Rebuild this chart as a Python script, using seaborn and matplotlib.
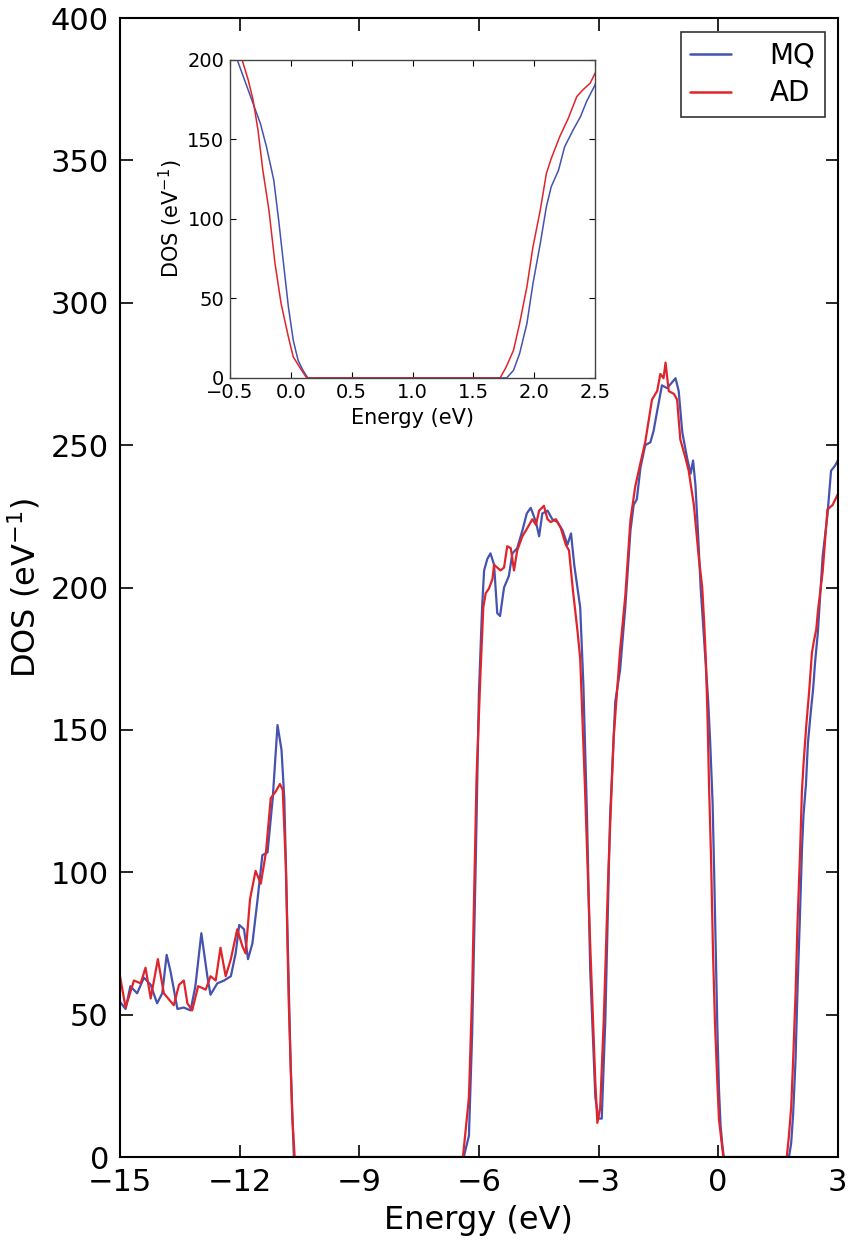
import numpy as np
import seaborn as sns
import matplotlib
matplotlib.use("Agg")
import matplotlib.pyplot as plt

# MQ (blue) density of states
energy_mq = [-15.0, -14.86, -14.74, -14.57, -14.40, -14.23, -14.07, -13.94, -13.83, -13.73,
             -13.56, -13.40, -13.23, -13.11, -12.96, -12.81, -12.73, -12.56, -12.39, -12.22,
             -12.10, -12.01, -11.89, -11.79, -11.68, -11.55, -11.43, -11.30, -11.17, -11.05,
             -10.95, -10.88, -10.80, -10.72, -10.64,
             -6.38, -6.25, -6.17, -6.08, -6.0, -5.92, -5.87, -5.79, -5.71, -5.62,
             -5.54, -5.47, -5.37, -5.25, -5.16, -5.04, -4.91, -4.80, -4.70, -4.57,
             -4.49, -4.41, -4.28, -4.16, -4.03, -3.90, -3.78, -3.69, -3.61, -3.53,
             -3.46, -3.38, -3.29, -3.21, -3.08, -3.0, -2.92, -2.83, -2.71, -2.58,
             -2.46, -2.33, -2.20, -2.12, -2.04, -1.95, -1.83, -1.70, -1.62, -1.53,
             -1.41, -1.28, -1.16, -1.07, -0.99, -0.90, -0.78, -0.69, -0.63, -0.57,
             -0.49, -0.44, -0.38, -0.31, -0.25, -0.20, -0.14, -0.10, -0.06, -0.02,
             0.02, 0.06, 0.10, 0.14,
             1.774, 1.83, 1.88, 1.94, 1.99, 2.05, 2.10, 2.14, 2.20, 2.25,
             2.32, 2.38, 2.43, 2.50, 2.62, 2.74, 2.83, 2.93, 3.0]
dos_mq = [54.5, 52, 60, 57.5, 63, 60.5, 54, 57.5, 71, 65,
          52, 52.5, 51.5, 60, 78.6, 63.5, 57, 61, 62, 63.5,
          71.5, 81.5, 80, 69.5, 75, 90.5, 106, 107, 126, 151.7,
          143, 126, 78.6, 31.9, 0,
          0, 7.5, 43, 103, 163, 193, 206, 210, 212, 208,
          191, 190, 200, 204, 212, 213.8, 220, 226, 228, 223,
          218, 226, 227, 224, 223, 220, 215, 219, 208, 200,
          193, 165.7, 120, 66, 20.8, 13.5, 13.5, 48, 120, 160,
          171, 193, 220, 229, 231, 242, 250, 251, 255, 262,
          271, 270, 272, 273.5, 269, 254.5, 245.5, 240, 244.6, 236,
          214.7, 200, 187.4, 172.7, 160, 145.4, 124.4, 99.3, 72, 44.7,
          23.7, 11, 4.8, 0,
          0, 4.8, 15.3, 34.2, 59.4, 84.6, 107.7, 120.3, 130.7, 145.4,
          156, 164.3, 173.8, 184.3, 211, 225.5, 241, 242.8, 244.6]

# AD (red) density of states
energy_ad = [-15.0, -14.86, -14.65, -14.48, -14.36, -14.23, -14.05, -13.90, -13.65, -13.52,
             -13.40, -13.31, -13.19, -13.04, -12.85, -12.73, -12.60, -12.48, -12.35, -12.22,
             -12.06, -11.93, -11.85, -11.74, -11.60, -11.47, -11.34, -11.22, -11.09, -10.99,
             -10.92, -10.84, -10.77, -10.68, -10.62,
             -6.40, -6.25, -6.17, -6.06, -5.96, -5.89, -5.83, -5.75, -5.66, -5.62,
             -5.54, -5.46, -5.37, -5.29, -5.20, -5.12, -5.04, -4.91, -4.78, -4.66,
             -4.57, -4.49, -4.37, -4.28, -4.20, -4.07, -3.95, -3.82, -3.74, -3.65,
             -3.53, -3.46, -3.34, -3.21, -3.08, -3.03, -2.96, -2.87, -2.75, -2.62,
             -2.46, -2.33, -2.20, -2.08, -1.95, -1.83, -1.66, -1.53, -1.45, -1.37,
             -1.32, -1.24, -1.11, -1.03, -0.95, -0.82, -0.74, -0.61, -0.49, -0.40,
             -0.35, -0.31, -0.27, -0.23, -0.18, -0.13, -0.08, -0.02, 0.02, 0.08, 0.13,
             1.72, 1.77, 1.83, 1.88, 1.94, 1.99, 2.05, 2.10, 2.14, 2.21,
             2.28, 2.35, 2.40, 2.46, 2.50, 2.62, 2.74, 2.87, 3.0]
dos_ad = [63.5, 52.5, 62, 61, 66.5, 55.7, 69.5, 57.5, 53.3, 60.5,
          62, 54, 51.5, 60, 58.8, 63.5, 62, 73.5, 63.5, 69.5,
          80, 74, 71.5, 90.5, 100.5, 96, 107, 126, 128.5, 131,
          129, 102, 55, 14, 0,
          0, 21, 58, 133, 170, 193, 198, 199.6, 203, 208,
          207, 206, 207, 214.5, 213.8, 206, 213, 218, 221, 224,
          222, 227, 228.7, 224, 223, 224, 221, 215, 213, 200,
          185, 175, 129.5, 75, 26, 12, 17, 48, 102, 147.6,
          178, 197, 223.7, 235.5, 243.7, 251, 266, 269, 275, 273.5,
          279, 269, 268, 266, 252, 245.5, 241, 229, 211, 200,
          187.4, 174.8, 156, 130.7, 105.6, 72, 46.8, 25.8, 13.2, 5.9, 0,
          0, 6.9, 17.4, 34.2, 57.3, 82.5, 105.6, 128.6, 138, 151.8,
          163.3, 177, 181.2, 185.4, 191.6, 205.6, 227.4, 229, 232.8]

blue = "#4552b0"
red = "#e0242b"

sns.set_style("ticks")
plt.rcParams['font.family'] = ['DejaVu Sans']
plt.rcParams['mathtext.default'] = 'regular'
plt.rcParams['text.color'] = 'black'
plt.rcParams['axes.labelcolor'] = 'black'
plt.rcParams['xtick.color'] = 'black'
plt.rcParams['ytick.color'] = 'black'

fig = plt.figure(figsize=(8.48, 12.42), dpi=100)
ax = fig.add_axes([0.1415, 0.0684, 0.8465, 0.9171])

sns.lineplot(x=energy_mq, y=dos_mq, color=blue, lw=1.6, label="MQ", ax=ax, sort=False)
sns.lineplot(x=energy_ad, y=dos_ad, color=red, lw=1.6, label="AD", ax=ax, sort=False)

ax.set_xlim(-15, 3)
ax.set_ylim(0, 400)
ax.set_xticks(np.arange(-15, 4, 3))
ax.set_yticks(np.arange(0, 401, 50))
ax.tick_params(direction="in", length=9, width=1.2, top=True, right=True,
               labelsize=22, pad=8)
ax.set_xlabel("Energy (eV)", fontsize=23, labelpad=6)
ax.set_ylabel("DOS (eV$^{-1}$)", fontsize=23, labelpad=6)
for s in ax.spines.values():
    s.set_linewidth(1.5)
    s.set_color("black")
    s.set_zorder(5)

leg = ax.legend(loc="upper right", fontsize=20, handlelength=1.45, handletextpad=1.4,
                borderpad=0.35, labelspacing=0.35, fancybox=False, borderaxespad=0,
                bbox_to_anchor=(0.982, 0.9877))
leg.get_frame().set_edgecolor("black")
leg.get_frame().set_linewidth(1.2)
for line in leg.get_lines():
    line.set_linewidth(1.8)

# inset: zoom on the band gap
ins = fig.add_axes([0.2712, 0.6957, 0.4305, 0.256])
sns.lineplot(x=energy_mq, y=dos_mq, color=blue, lw=1.1, ax=ins, sort=False, legend=False)
sns.lineplot(x=energy_ad, y=dos_ad, color=red, lw=1.1, ax=ins, sort=False, legend=False)
ins.set_xlim(-0.5, 2.5)
ins.set_ylim(0, 200)
ins.set_xticks(np.arange(-0.5, 2.51, 0.5))
ins.set_yticks(np.arange(0, 201, 50))
ins.tick_params(direction="in", length=4, width=0.8, top=True, right=True,
                labelsize=14, pad=4)
ins.set_xlabel("Energy (eV)", fontsize=15, labelpad=4)
ins.set_ylabel("DOS (eV$^{-1}$)", fontsize=15, labelpad=2)
for s in ins.spines.values():
    s.set_linewidth(1.0)
    s.set_color("#444444")
    s.set_zorder(5)

fig.savefig("out.png", dpi=100)
